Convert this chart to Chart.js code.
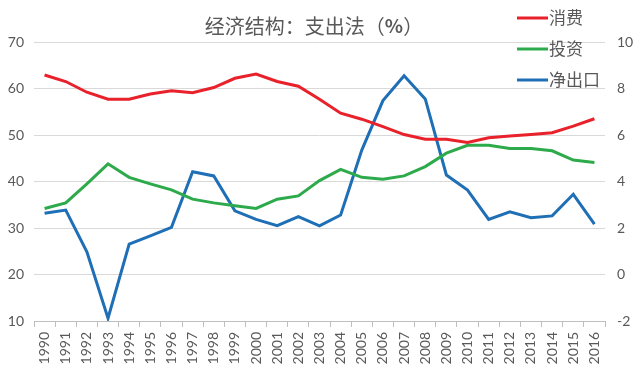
<!DOCTYPE html>
<html>
<head>
<meta charset="utf-8">
<script src="https://cdn.jsdelivr.net/npm/chart.js@4.4.0/dist/chart.umd.min.js"></script>
<style>
html,body{margin:0;padding:0;background:#fff;}
#wrap{width:640px;height:376px;position:relative;}
</style>
</head>
<body>
<div id="wrap"><canvas id="c" width="640" height="376"></canvas></div>
<script>
const years = ["1990","1991","1992","1993","1994","1995","1996","1997","1998","1999","2000","2001","2002","2003","2004","2005","2006","2007","2008","2009","2010","2011","2012","2013","2014","2015","2016"];
const consumption = [62.9,61.5,59.2,57.7,57.7,58.8,59.5,59.1,60.2,62.2,63.1,61.5,60.5,57.7,54.7,53.4,51.8,50.1,49.1,49.1,48.4,49.4,49.8,50.1,50.5,51.9,53.5];
const investment = [34.2,35.4,39.5,43.8,40.9,39.5,38.2,36.2,35.4,34.8,34.2,36.2,36.9,40.2,42.6,40.9,40.5,41.2,43.2,46.1,47.8,47.8,47.1,47.1,46.6,44.6,44.1];
const netExports = [2.63,2.77,0.98,-1.88,1.31,1.66,2.03,4.42,4.24,2.74,2.37,2.10,2.49,2.09,2.56,5.35,7.48,8.55,7.55,4.28,3.63,2.37,2.70,2.44,2.52,3.45,2.17];
const seriesNames = ["消费","投资","净出口"];
const titleParts = ["经济结构：支出法（", "%", "）"];

const COLORS = ["#E8212B","#2DAA4B","#1F6FB6"];
const TEXT = "#595959";
const FONT = "Lato, 'Noto Sans CJK SC', sans-serif";

const extras = {
  id: 'extras',
  afterDraw(chart) {
    const ctx = chart.ctx;
    ctx.save();
    ctx.fillStyle = TEXT;
    ctx.textBaseline = 'middle';
    ctx.textAlign = 'left';
    const fonts = ["20px 'Noto Sans CJK SC', sans-serif", "bold 19px 'Noto Sans CJK SC', sans-serif", "20px 'Noto Sans CJK SC', sans-serif"];
    let total = 0;
    titleParts.forEach((p, i) => { ctx.font = fonts[i]; total += ctx.measureText(p).width; });
    let x = 314 - total / 2;
    titleParts.forEach((p, i) => { ctx.font = fonts[i]; ctx.fillText(p, x, 26); x += ctx.measureText(p).width; });

    const ys = [18, 49, 80];
    ctx.font = "17px 'Noto Sans CJK SC', sans-serif";
    seriesNames.forEach((n, i) => {
      ctx.strokeStyle = COLORS[i];
      ctx.lineWidth = 3;
      ctx.beginPath();
      ctx.moveTo(517, ys[i]);
      ctx.lineTo(548, ys[i]);
      ctx.stroke();
      ctx.fillStyle = TEXT;
      ctx.fillText(n, 549, ys[i]);
    });
    ctx.restore();
  }
};

new Chart(document.getElementById('c'), {
  type: 'line',
  data: {
    labels: years,
    datasets: [
      {label: seriesNames[0], data: consumption, borderColor: COLORS[0], yAxisID: 'y', borderWidth: 3, pointRadius: 0, tension: 0},
      {label: seriesNames[1], data: investment, borderColor: COLORS[1], yAxisID: 'y', borderWidth: 3, pointRadius: 0, tension: 0},
      {label: seriesNames[2], data: netExports, borderColor: COLORS[2], yAxisID: 'y1', borderWidth: 3, pointRadius: 0, tension: 0}
    ]
  },
  options: {
    responsive: false,
    animation: false,
    layout: {padding: {top: 42, left: 0, right: 0, bottom: 0}},
    plugins: {legend: {display: false}, title: {display: false}, tooltip: {enabled: false}},
    scales: {
      x: {
        offset: true,
        grid: {display: true, drawOnChartArea: false, drawTicks: true, tickLength: 6, offset: true, color: '#bfbfbf'},
        border: {display: true, color: '#bfbfbf'},
        ticks: {color: TEXT, font: {family: FONT, size: 14}, minRotation: 90, maxRotation: 90, autoSkip: false, padding: 5},
        afterFit(s) { s.height = 55; }
      },
      y: {
        position: 'left',
        min: 10, max: 70,
        ticks: {stepSize: 10, color: TEXT, font: {family: FONT, size: 14}, padding: 10},
        grid: {color: '#d9d9d9', drawTicks: false, lineWidth: 1},
        border: {display: false},
        afterFit(s) { s.width = 34; }
      },
      y1: {
        position: 'right',
        min: -2, max: 10,
        ticks: {stepSize: 2, color: TEXT, font: {family: FONT, size: 14}, padding: 12},
        grid: {drawOnChartArea: false, drawTicks: false},
        border: {display: false},
        afterFit(s) { s.width = 35; }
      }
    }
  },
  plugins: [extras]
});
</script>
</body>
</html>
